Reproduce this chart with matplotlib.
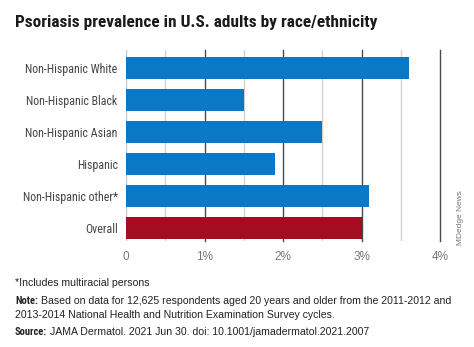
import matplotlib.pyplot as plt

# prevalence (%) by group
groups = ["Non-Hispanic White", "Non-Hispanic Black", "Non-Hispanic Asian",
          "Hispanic", "Non-Hispanic other*", "Overall"]
prevalence = [3.6, 1.5, 2.5, 1.9, 3.1, 3.0]
bar_colors = ["#0a78c4"] * 5 + ["#a50b21"]

xticks = [0, 1, 2, 3, 4]
xtick_labels = ["0", "1%", "2%", "3%", "4%"]

narrow = ["Roboto Condensed", "Liberation Sans Narrow", "Roboto", "DejaVu Sans"]
plain = ["Liberation Sans", "DejaVu Sans"]

fig = plt.figure(figsize=(4.74, 3.47), dpi=100)
ax = fig.add_axes([126 / 474, 1 - 241 / 347, (440 - 126) / 474, (241 - 50) / 347])

pos = list(range(len(groups)))

# grid lines: light at half steps, dark at whole percents
for x in [0.5, 1.5, 2.5, 3.5]:
    ax.axvline(x, color="#d0d0d0", lw=1, zorder=0)
for x in [1, 2, 3, 4]:
    ax.axvline(x, color="#4a4a4a", lw=1, zorder=0, clip_on=False)
ax.axvline(0, color="#c8c8c8", lw=1, zorder=0)

ax.barh(pos, prevalence, height=0.69, color=bar_colors, zorder=2)

ax.set_xlim(0, 4)
ax.set_ylim(5.41, -0.56)
ax.set_yticks(pos)
ax.set_yticklabels(groups, family=narrow, fontsize=8.6, color="#444444")
ax.set_xticks(xticks)
ax.set_xticklabels(xtick_labels, family=plain, fontsize=8.5, color="#777777")
ax.tick_params(length=0, pad=7)
ax.tick_params(axis="y", pad=6)
for s in ax.spines.values():
    s.set_visible(False)

fig.text(15 / 474, 1 - 22 / 347, "Psoriasis prevalence in U.S. adults by race/ethnicity",
         family=narrow, fontsize=12.4, fontweight="bold", color="#1a1a1a",
         va="center", ha="left")

fig.text(461 / 474, 1 - 245 / 347, "MDedge News", rotation=90, family=plain,
         fontsize=6, color="#777777", ha="center", va="bottom")

foot = 7.6
fig.canvas.draw()
renderer = fig.canvas.get_renderer()


def labelled(y, head, body):
    x0 = 15 / 474
    if head:
        t = fig.text(x0, 1 - y / 347, head, family=narrow, fontweight="bold",
                     fontsize=foot, color="#222222", va="center")
        w = t.get_window_extent(renderer).width / fig.bbox.width
        x0 = x0 + w + 3 / 474
    fig.text(x0, 1 - y / 347, body, family=plain, fontsize=foot,
             color="#222222", va="center")


labelled(283, None, "*Includes multiracial persons")
labelled(301, "Note:", "Based on data for 12,625 respondents aged 20 years and older from the 2011-2012 and")
labelled(315, None, "2013-2014 National Health and Nutrition Examination Survey cycles.")
labelled(332, "Source:", "JAMA Dermatol. 2021 Jun 30. doi: 10.1001/jamadermatol.2021.2007")

fig.savefig("out.png", dpi=100)
